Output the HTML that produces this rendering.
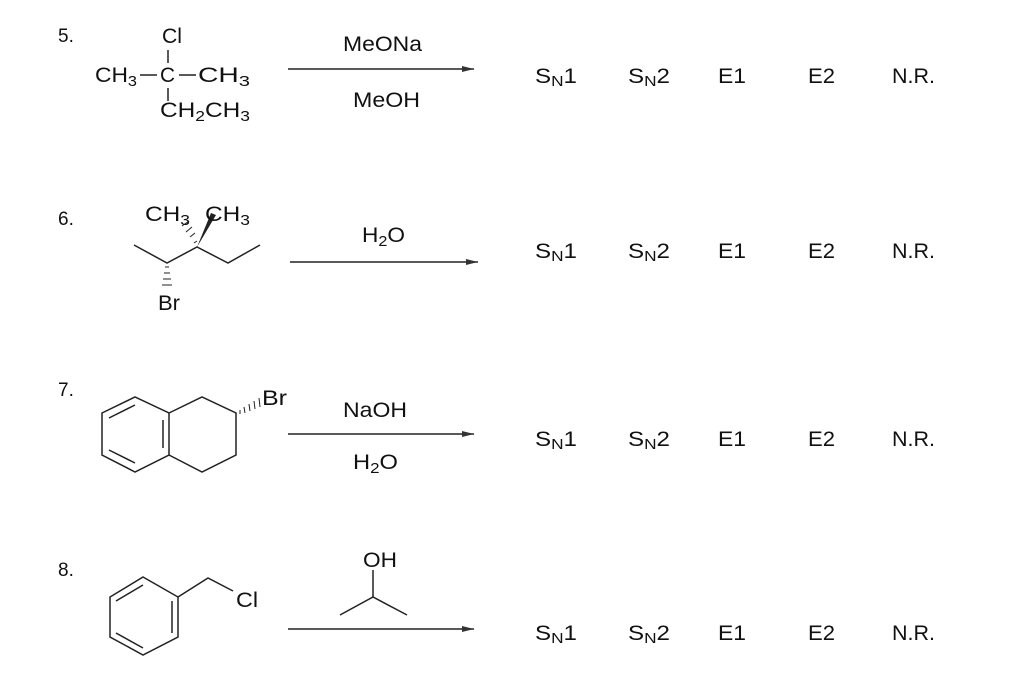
<!DOCTYPE html>
<html><head><style>
html,body{margin:0;padding:0;background:#fff;}
svg{display:block;}
text{font-family:"Liberation Sans",Arial,sans-serif;font-size:21px;fill:#111;}
.s{font-size:15px;}
.n{font-size:19px;}
</style></head><body>
<svg width="1024" height="683" viewBox="0 0 1024 683" xmlns="http://www.w3.org/2000/svg">
<defs>
<marker id="ah" markerWidth="12" markerHeight="6" refX="12" refY="3" orient="auto" markerUnits="userSpaceOnUse">
<path d="M0,0 L12,3 L0,6 Z" fill="#333"/></marker>
</defs>
<g stroke="#222" stroke-width="1.5" fill="none">
<line x1="168" y1="50" x2="168" y2="63"/>
<line x1="140" y1="75" x2="157" y2="75"/>
<line x1="179" y1="75" x2="196" y2="75"/>
<line x1="168" y1="88" x2="168" y2="101"/>
<line x1="288" y1="69" x2="474" y2="69" marker-end="url(#ah)"/>
<polyline points="134,245 167,263 197,247 228,263 260,245"/>
<line x1="290" y1="262" x2="478" y2="262" marker-end="url(#ah)"/>
<polygon points="102,413 135,397 169,413 169,455 135,472 102,455"/>
<polyline points="169,413 202,397 236,413 236,455 202,472 169,455"/>
<line x1="109" y1="418" x2="135" y2="405"/>
<line x1="163" y1="420" x2="163" y2="448"/>
<line x1="109" y1="450" x2="135" y2="463"/>
<line x1="288" y1="434" x2="474" y2="434" marker-end="url(#ah)"/>
<polygon points="143,577 178,597 178,637 143,655 110,637 110,597"/>
<line x1="116" y1="601" x2="143" y2="585"/>
<line x1="172" y1="601" x2="172" y2="633"/>
<line x1="116" y1="633" x2="143" y2="648"/>
<polyline points="178,597 208,578 233,591"/>
<line x1="373" y1="570" x2="373" y2="597"/>
<polyline points="340,615 373,597 407,615"/>
<line x1="288" y1="629" x2="474" y2="629" marker-end="url(#ah)"/>
</g>
<polygon points="197,247 211,213 216,215" fill="#222"/>
<g stroke="#222" stroke-width="1">
<line x1="194" y1="243" x2="197" y2="241"/>
<line x1="190" y1="237" x2="195" y2="233"/>
<line x1="186" y1="232" x2="192" y2="227"/>
<line x1="182" y1="226" x2="189" y2="221"/>
<line x1="165" y1="267" x2="169" y2="267"/>
<line x1="164" y1="273" x2="170" y2="273"/>
<line x1="163" y1="279" x2="171" y2="279"/>
<line x1="162" y1="285" x2="172" y2="285"/>
<line x1="240" y1="414" x2="240" y2="410"/>
<line x1="245" y1="413" x2="244" y2="407"/>
<line x1="250" y1="411" x2="249" y2="404"/>
<line x1="255" y1="409" x2="254" y2="401"/>
<line x1="260" y1="407" x2="259" y2="398"/>
</g>
<g>
<text x="58" y="42" class="n">5.</text>
<text x="162" y="43" textLength="20" lengthAdjust="spacingAndGlyphs">Cl</text>
<text x="95" y="82" textLength="42" lengthAdjust="spacingAndGlyphs">CH<tspan class="s" dy="4">3</tspan></text>
<text x="160" y="82" textLength="15" lengthAdjust="spacingAndGlyphs">C</text>
<text x="198" y="82" textLength="52" lengthAdjust="spacingAndGlyphs">CH<tspan class="s" dy="4">3</tspan></text>
<text x="160" y="117" textLength="90" lengthAdjust="spacingAndGlyphs">CH<tspan class="s" dy="4">2</tspan><tspan dy="-4">CH</tspan><tspan class="s" dy="4">3</tspan></text>
<text x="343" y="51" textLength="79" lengthAdjust="spacingAndGlyphs">MeONa</text>
<text x="353" y="107" textLength="67" lengthAdjust="spacingAndGlyphs">MeOH</text>

<text x="58" y="225" class="n">6.</text>
<text x="145" y="221" textLength="45" lengthAdjust="spacingAndGlyphs">CH<tspan class="s" dy="4">3</tspan></text>
<text x="205" y="221" textLength="45" lengthAdjust="spacingAndGlyphs">CH<tspan class="s" dy="4">3</tspan></text>
<text x="158" y="310" textLength="22" lengthAdjust="spacingAndGlyphs">Br</text>
<text x="362" y="242" textLength="43" lengthAdjust="spacingAndGlyphs">H<tspan class="s" dy="4">2</tspan><tspan dy="-4">O</tspan></text>

<text x="58" y="396" class="n">7.</text>
<text x="262" y="405" textLength="25" lengthAdjust="spacingAndGlyphs">Br</text>
<text x="343" y="417" textLength="64" lengthAdjust="spacingAndGlyphs">NaOH</text>
<text x="353" y="469" textLength="45" lengthAdjust="spacingAndGlyphs">H<tspan class="s" dy="4">2</tspan><tspan dy="-4">O</tspan></text>

<text x="58" y="576" class="n">8.</text>
<text x="236" y="607" textLength="22" lengthAdjust="spacingAndGlyphs">Cl</text>
<text x="363" y="567" textLength="34" lengthAdjust="spacingAndGlyphs">OH</text>
</g>
<g>
<text x="535" y="83" textLength="42" lengthAdjust="spacingAndGlyphs">S<tspan class="s" dy="3">N</tspan><tspan dy="-3">1</tspan></text>
<text x="628" y="83" textLength="42" lengthAdjust="spacingAndGlyphs">S<tspan class="s" dy="3">N</tspan><tspan dy="-3">2</tspan></text>
<text x="718" y="83" textLength="28" lengthAdjust="spacingAndGlyphs">E1</text><text x="808" y="83" textLength="27" lengthAdjust="spacingAndGlyphs">E2</text><text x="892" y="83" textLength="43" lengthAdjust="spacingAndGlyphs">N.R.</text>
<text x="535" y="258" textLength="42" lengthAdjust="spacingAndGlyphs">S<tspan class="s" dy="3">N</tspan><tspan dy="-3">1</tspan></text>
<text x="628" y="258" textLength="42" lengthAdjust="spacingAndGlyphs">S<tspan class="s" dy="3">N</tspan><tspan dy="-3">2</tspan></text>
<text x="718" y="258" textLength="28" lengthAdjust="spacingAndGlyphs">E1</text><text x="808" y="258" textLength="27" lengthAdjust="spacingAndGlyphs">E2</text><text x="892" y="258" textLength="43" lengthAdjust="spacingAndGlyphs">N.R.</text>
<text x="535" y="446" textLength="42" lengthAdjust="spacingAndGlyphs">S<tspan class="s" dy="3">N</tspan><tspan dy="-3">1</tspan></text>
<text x="628" y="446" textLength="42" lengthAdjust="spacingAndGlyphs">S<tspan class="s" dy="3">N</tspan><tspan dy="-3">2</tspan></text>
<text x="718" y="446" textLength="28" lengthAdjust="spacingAndGlyphs">E1</text><text x="808" y="446" textLength="27" lengthAdjust="spacingAndGlyphs">E2</text><text x="892" y="446" textLength="43" lengthAdjust="spacingAndGlyphs">N.R.</text>
<text x="535" y="640" textLength="42" lengthAdjust="spacingAndGlyphs">S<tspan class="s" dy="3">N</tspan><tspan dy="-3">1</tspan></text>
<text x="628" y="640" textLength="42" lengthAdjust="spacingAndGlyphs">S<tspan class="s" dy="3">N</tspan><tspan dy="-3">2</tspan></text>
<text x="718" y="640" textLength="28" lengthAdjust="spacingAndGlyphs">E1</text><text x="808" y="640" textLength="27" lengthAdjust="spacingAndGlyphs">E2</text><text x="892" y="640" textLength="43" lengthAdjust="spacingAndGlyphs">N.R.</text>
</g>
</svg>
</body></html>
